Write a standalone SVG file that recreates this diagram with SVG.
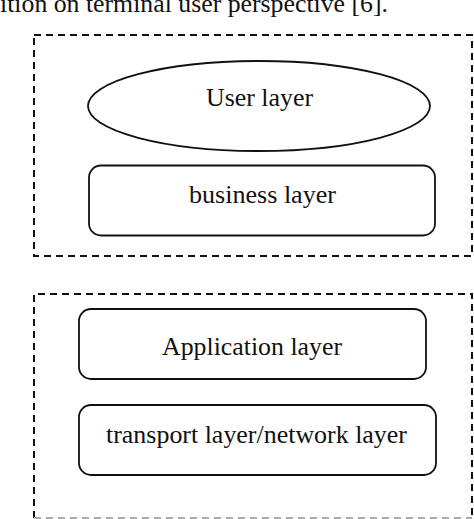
<svg xmlns="http://www.w3.org/2000/svg" width="474" height="519" viewBox="0 0 474 519">
<style>
.t{font-family:"Liberation Serif","Times New Roman",serif;font-size:26px;fill:#111}
.n{fill:#fff;stroke:#111;stroke-width:1.8}
.d{fill:none;stroke:#111;stroke-width:2;stroke-dasharray:7 5}
</style>
<rect width="474" height="519" fill="#fff"/>
<text class="t" x="0" y="12" font-size="25" textLength="388" lengthAdjust="spacingAndGlyphs">ition on terminal user perspective [6].</text>
<g id="group-top">
<rect class="d" x="34" y="35" width="438" height="221"/>
</g>
<g id="group-bottom">
<path class="d" d="M34 518 V294 H472 V518"/>
<line x1="34" y1="518" x2="472" y2="518" stroke="#aaa" stroke-width="2" stroke-dasharray="7 5"/>
</g>
<g id="user-layer">
<ellipse class="n" cx="259" cy="106" rx="171" ry="45"/>
<text class="t" x="206" y="105.5" textLength="107" lengthAdjust="spacingAndGlyphs">User layer</text>
</g>
<g id="business-layer">
<rect class="n" x="89" y="165.5" width="346" height="70" rx="12"/>
<text class="t" x="189" y="203" textLength="147" lengthAdjust="spacingAndGlyphs">business layer</text>
</g>
<g id="application-layer">
<rect class="n" x="79" y="309" width="347" height="70" rx="12"/>
<text class="t" x="162" y="355" textLength="180" lengthAdjust="spacingAndGlyphs">Application layer</text>
</g>
<g id="transport-layer">
<rect class="n" x="79" y="405" width="357" height="70" rx="12"/>
<text class="t" x="106" y="443" textLength="301" lengthAdjust="spacingAndGlyphs">transport layer/network layer</text>
</g>
<g id="connectors"></g>
</svg>
